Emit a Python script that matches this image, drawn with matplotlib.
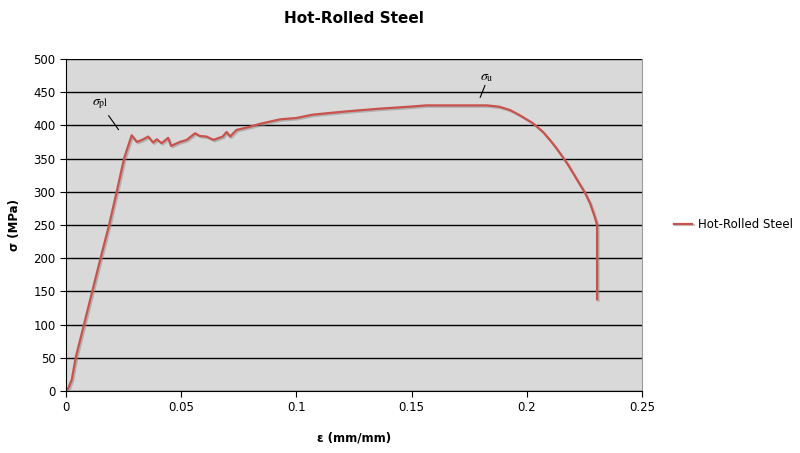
import matplotlib.pyplot as plt
import matplotlib.patheffects as pe

plt.rcParams['mathtext.fontset'] = 'stix'

# strain (mm/mm) and stress (MPa)
strain = [0.0, 0.001, 0.0025, 0.0042, 0.0078, 0.0114, 0.0150, 0.0187, 0.0220, 0.0252,
          0.0285, 0.0307, 0.0330, 0.0357, 0.0378, 0.0394, 0.0415, 0.0443, 0.0456,
          0.0495, 0.0524, 0.0560, 0.0580, 0.0610, 0.0640, 0.0680, 0.0697, 0.0712,
          0.0740, 0.0800, 0.0840, 0.0929, 0.1000, 0.1070, 0.1218, 0.1360, 0.1490,
          0.1565, 0.1700, 0.1826, 0.1880, 0.1927, 0.1970, 0.2027, 0.2070, 0.2100,
          0.2125, 0.2150, 0.2180, 0.2218, 0.2253, 0.2275, 0.2295, 0.2305, 0.2305]
stress = [0, 4, 17, 50, 100, 150, 200, 250, 300, 350,
          385, 375, 378, 383, 374, 379, 373, 381, 369,
          375, 378, 388, 384, 383, 378, 383, 390, 383,
          393, 398, 402, 409, 411, 416, 421, 425, 428,
          430, 430, 430, 428, 423, 415, 403, 390, 378,
          367, 355, 340, 318, 298, 282, 262, 250, 138]

fig = plt.figure(figsize=(8, 4.53), dpi=100)
ax = fig.add_axes([0.0825, 0.137, 0.72, 0.733])
ax.set_facecolor('#d9d9d9')

line, = ax.plot(strain, stress, color='#c8524c', lw=1.6, label='Hot-Rolled Steel',
                path_effects=[pe.SimpleLineShadow(offset=(1, -1), shadow_color='#8a8a8a', alpha=0.5),
                              pe.Normal()])

ax.set_xlim(0, 0.25)
ax.set_ylim(0, 500)
ax.set_xticks([0, 0.05, 0.1, 0.15, 0.2, 0.25])
ax.set_xticklabels(['0', '0.05', '0.1', '0.15', '0.2', '0.25'])
ax.set_yticks(range(0, 501, 50))
ax.yaxis.grid(True, color='black', lw=1)
ax.set_axisbelow(True)
ax.tick_params(labelsize=8.5, length=4, direction='out')

ax.spines['top'].set_visible(False)
ax.spines['right'].set_color('#9a9a9a')

ax.set_title('Hot-Rolled Steel', fontsize=11, fontweight='bold', pad=26)
ax.set_xlabel('ε (mm/mm)', fontsize=8.5, fontweight='bold', labelpad=12)
ax.set_ylabel('σ (MPa)', fontsize=8.5, fontweight='bold', labelpad=9)

# annotations
ax.annotate('', xy=(0.0235, 390), xytext=(0.0178, 418),
            arrowprops=dict(arrowstyle='-', color='black', lw=0.8))
ax.text(0.0115, 430, r'$\sigma_{\mathrm{pl}}$', fontsize=10)
ax.annotate('', xy=(0.1793, 438), xytext=(0.1823, 464),
            arrowprops=dict(arrowstyle='-', color='black', lw=0.8))
ax.text(0.1795, 468, r'$\sigma_{\mathrm{u}}$', fontsize=10)

fig.legend(handles=[line], loc='center left', bbox_to_anchor=(0.836, 0.505),
           frameon=False, fontsize=8.5, handlelength=1.6, handletextpad=0.45,
           borderaxespad=0)

fig.savefig('out.png', dpi=100)
